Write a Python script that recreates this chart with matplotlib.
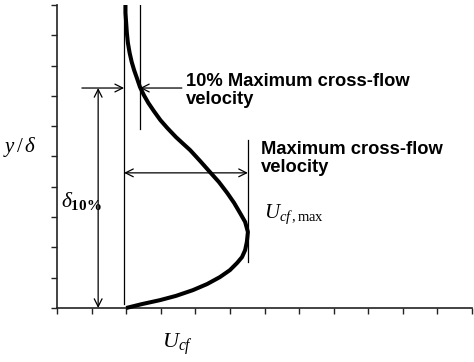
import matplotlib
matplotlib.use("Agg")
import matplotlib.pyplot as plt

plt.rcParams['mathtext.fontset'] = 'custom'
plt.rcParams['mathtext.rm'] = 'Liberation Serif'
plt.rcParams['mathtext.it'] = 'Liberation Serif:italic'
plt.rcParams['mathtext.bf'] = 'Liberation Serif:bold'

# velocity profile (x = U_cf, y = y/delta)
profile_u = [2.00, 2.46, 2.98, 3.44, 3.93, 4.34, 4.71, 5.00, 5.21, 5.35, 5.44,
             5.49, 5.52, 5.44, 5.29, 5.12, 4.92, 4.68, 4.42, 4.14, 3.85, 3.62,
             3.44, 3.19, 2.99, 2.80, 2.64, 2.51, 2.40, 2.31, 2.23, 2.16, 2.10,
             2.05, 2.02, 2.00, 1.98, 1.98]
profile_y = [0.00, 0.13, 0.26, 0.40, 0.59, 0.79, 1.02, 1.25, 1.49, 1.68, 1.91,
             2.18, 2.51, 2.84, 3.14, 3.47, 3.80, 4.16, 4.49, 4.85, 5.21, 5.45,
             5.64, 5.94, 6.20, 6.50, 6.77, 7.03, 7.29, 7.59, 7.85, 8.12, 8.42,
             8.75, 9.08, 9.41, 9.74, 10.0]

x_ticks = list(range(0, 13))
y_ticks = list(range(0, 11))

u_zero = 1.94        # reference vertical line
u_10 = 2.40          # 10% max cross-flow velocity
u_max = 5.52         # maximum cross-flow velocity
y_10 = 7.26          # height of delta_10%
y_maxarrow = 4.46
u_dim = 1.19         # x of delta_10% dimension arrow

fig = plt.figure(figsize=(4.74, 3.62), dpi=100)
ax = fig.add_axes([57/474, 54/362, 415/474, 303/362])
ax.set_xlim(0, 12)
ax.set_ylim(0, 10)
for s in ['top', 'right']:
    ax.spines[s].set_visible(False)
for s in ['left', 'bottom']:
    ax.spines[s].set_linewidth(1.2)
    ax.spines[s].set_color('#222222')
ax.set_xticks(x_ticks)
ax.set_yticks(y_ticks)
ax.set_xticklabels([])
ax.set_yticklabels([])
ax.tick_params(direction='out', length=4, width=1.0, color='#222222')

ax.plot(profile_u, profile_y, color='black', lw=2.9, solid_capstyle='butt',
        solid_joinstyle='round', clip_on=False, zorder=3)

lc = 'black'
lw = 0.9
ax.plot([u_zero, u_zero], [0.13, 10.0], color=lc, lw=lw)
ax.plot([u_10, u_10], [5.91, 10.0], color=lc, lw=lw)
ax.plot([u_max, u_max], [1.52, 5.54], color=lc, lw=lw)

ap = dict(arrowstyle='->', lw=lw, color=lc, shrinkA=0, shrinkB=0,
          mutation_scale=14)
ax.annotate('', xy=(u_zero, y_10), xytext=(0.72, y_10), arrowprops=ap)
ax.annotate('', xy=(u_10, y_10), xytext=(3.61, y_10), arrowprops=ap)
ap2 = dict(arrowstyle='<->', lw=lw, color=lc, shrinkA=0, shrinkB=0,
           mutation_scale=14)
ax.annotate('', xy=(u_zero, y_maxarrow), xytext=(u_max, y_maxarrow),
            arrowprops=ap2)
ax.annotate('', xy=(u_dim, 0.0), xytext=(u_dim, y_10), arrowprops=ap2)

bold = dict(family='Liberation Sans', weight='bold', fontsize=13.2,
            color='black', linespacing=1.1)
fig.text(186/474, 1 - 73/362, '10% Maximum cross-flow\nvelocity', va='top',
         ha='left', **bold)
fig.text(261/474, 1 - 141/362, 'Maximum cross-flow\nvelocity', va='top',
         ha='left', **bold)

fig.text(264/474, 1 - 218/362, r'$U_{cf\,\mathrm{,max}}$', fontsize=15,
         ha='left', va='baseline')
fig.text(162/474, 1 - 348/362, r'$U_{cf}$', fontsize=16,
         ha='left', va='baseline')
fig.text(3/474, 1 - 152/362, r'$y\,/\,\delta$', fontsize=15,
         ha='left', va='baseline')
fig.text(61/474, 1 - 207/362, r'$\delta_{\mathbf{10\%}}$', fontsize=15.5,
         ha='left', va='baseline')

fig.savefig('out.png', dpi=100)
